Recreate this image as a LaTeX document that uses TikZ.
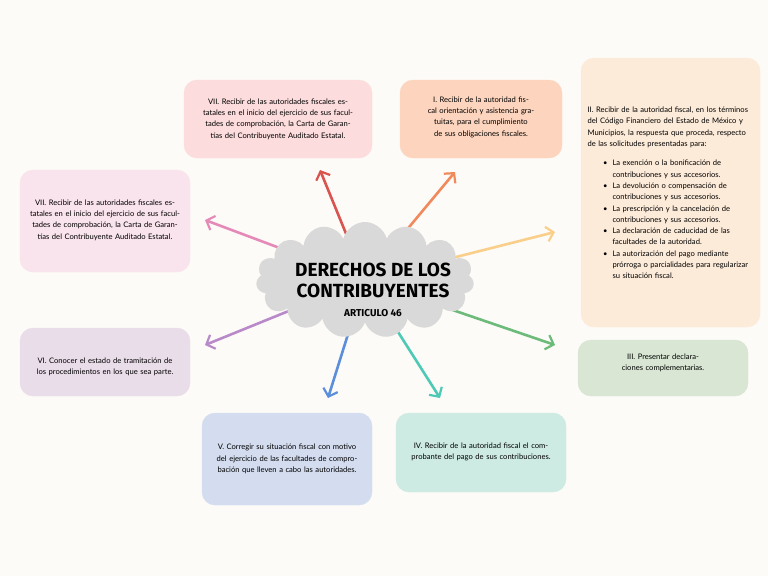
\documentclass[tikz,border=0pt]{standalone}
\usepackage{fontspec}
\setmainfont{Lato}
\newfontfamily\titlefont{Fira Sans}
\usetikzlibrary{shapes.symbols,arrows.meta}
\definecolor{paper}{HTML}{FDFBF7}
\definecolor{boxVIIa}{HTML}{FCDCDC}
\definecolor{boxI}{HTML}{FDD5BE}
\definecolor{boxII}{HTML}{FDEBD9}
\definecolor{boxVIIb}{HTML}{F9E3EC}
\definecolor{boxVI}{HTML}{EADDEA}
\definecolor{boxIII}{HTML}{D8E6D3}
\definecolor{boxV}{HTML}{D3DDEF}
\definecolor{boxIV}{HTML}{CDEBE3}
\definecolor{cloudgray}{HTML}{D9D9D9}
\tikzset{
  box/.style={rounded corners=13pt,inner sep=0pt,align=center,
    font=\fontsize{7.6}{11.3}\selectfont},
  arr/.style={line width=2.6pt,line cap=round,
    -{Straight Barb[length=7pt,width=15pt,line width=2.2pt]}},
}
\begin{document}
\begin{tikzpicture}[x=1pt,y=-1pt]
\fill[paper] (0,0) rectangle (768,576);
\useasboundingbox (0,0) rectangle (768,576);
% branches
\coordinate (o) at (365,280);
\foreach \tx/\ty/\col in {320/170/D9534F, 455/172/F08A5D, 555/232/F9CF8A, 555/345/6DBB7A,
  440/398/4DC9B5, 328/398/5B8FDB, 205/345/B98AC9, 205/220/E58AB8}{
  \definecolor{tmp}{HTML}{\col}
  \coordinate (t) at (\tx,\ty);
  \draw[arr,tmp] (o) -- (t);
}
% centre
\node[cloud,cloud puffs=15,aspect=2.1,fill=cloudgray,minimum width=218pt,minimum height=116pt] (cloud) at (365,280) {};
\node[align=center,font=\titlefont\bfseries\fontsize{19}{21}\selectfont] (title) at (373,280) {DERECHOS DE LOS\\CONTRIBUYENTES};
\node[font=\titlefont\bfseries\fontsize{10}{12}\selectfont] (art) at (373,313) {ARTICULO 46};
% boxes
\filldraw[boxVIIa,box] (184,80) rectangle (372,158);
\node[box,text width=170pt] (n7a) at (278,119) {VII. Recibir de las autoridades fiscales estatales en el inicio del ejercicio de sus facultades de comprobación, la Carta de Garantías del Contribuyente Auditado Estatal.};
\filldraw[boxI,box] (400,80) rectangle (562,158);
\node[box,text width=140pt] (n1) at (481,117) {I. Recibir de la autoridad fiscal orientación y asistencia gratuitas, para el cumplimiento de sus obligaciones fiscales.};
\filldraw[boxII,box] (581,58) rectangle (760,327);
\node[box,align=left,text width=165pt] (n2) at (670,193) {II. Recibir de la autoridad fiscal, en los términos del Código Financiero del Estado de México y Municipios, la respuesta que proceda, respecto de las solicitudes presentadas para:
\begin{itemize}\setlength{\itemsep}{0pt}\setlength{\parskip}{0pt}\setlength{\topsep}{0pt}\setlength{\leftmargin}{14pt}
\item La exención o la bonificación de contribuciones y sus accesorios.
\item La devolución o compensación de contribuciones y sus accesorios.
\item La prescripción y la cancelación de contribuciones y sus accesorios.
\item La declaración de caducidad de las facultades de la autoridad.
\item La autorización del pago mediante prórroga o parcialidades para regularizar su situación fiscal.
\end{itemize}};
\filldraw[boxVIIb,box] (20,170) rectangle (190,272);
\node[box,text width=150pt] (n7b) at (105,220) {VII. Recibir de las autoridades fiscales estatales en el inicio del ejercicio de sus facultades de comprobación, la Carta de Garantías del Contribuyente Auditado Estatal.};
\filldraw[boxVI,box] (20,328) rectangle (190,396);
\node[box,text width=150pt] (n6) at (105,367) {VI. Conocer el estado de tramitación de los procedimientos en los que sea parte.};
\filldraw[boxIII,box] (578,340) rectangle (748,396);
\node[box,text width=150pt] (n3) at (663,363) {III. Presentar declaraciones complementarias.};
\filldraw[boxV,box] (202,413) rectangle (372,505);
\node[box,text width=152pt] (n5) at (287,459) {V. Corregir su situación fiscal con motivo del ejercicio de las facultades de comprobación que lleven a cabo las autoridades.};
\filldraw[boxIV,box] (396,413) rectangle (566,492);
\node[box,text width=150pt] (n4) at (481,452) {IV. Recibir de la autoridad fiscal el comprobante del pago de sus contribuciones.};
\end{tikzpicture}
\end{document}
